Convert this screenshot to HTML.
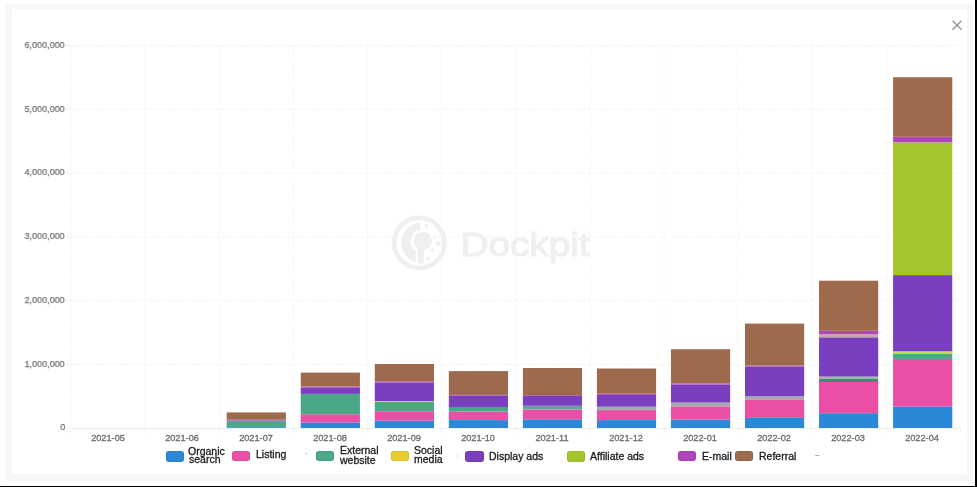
<!DOCTYPE html>
<html><head><meta charset="utf-8">
<style>
html,body{margin:0;padding:0;background:#fff;}
body{width:977px;height:487px;position:relative;overflow:hidden;font-family:"Liberation Sans",sans-serif;}
.yl,.xl,.lt{will-change:transform;}
.frame{position:absolute;left:5px;top:3.5px;width:968px;height:477.5px;background:#f7f7f5;}
.inner{position:absolute;left:12px;top:9px;width:955px;height:465px;background:#fff;}
.blk-r{position:absolute;left:975px;top:0;width:2px;height:487px;background:#000;}
.blk-b{position:absolute;left:0;top:485.5px;width:977px;height:2px;background:#000;}
svg{position:absolute;left:0;top:0;}
.yl{position:absolute;right:912px;font-size:9.6px;color:#6e6e6e;line-height:10px;white-space:nowrap;transform:scaleX(0.94);transform-origin:100% 50%;-webkit-text-stroke:0.25px #6e6e6e;}
.xl{position:absolute;font-size:9.2px;color:#6a6a6a;line-height:10px;white-space:nowrap;width:80px;text-align:center;transform:scaleX(1);-webkit-text-stroke:0.3px #6a6a6a;}
.li{position:absolute;width:18.2px;height:10.8px;border-radius:3px;margin-top:-0.2px;box-shadow:inset 0 0 0 0.6px rgba(0,0,0,0.10);}
.lt{position:absolute;font-size:10.5px;color:#1a1a1a;white-space:nowrap;line-height:10px;-webkit-text-stroke:0.3px #1a1a1a;}
</style></head><body>
<div class="frame"></div>
<div class="inner"></div>
<svg width="977" height="487" viewBox="0 0 977 487">
<circle cx="419.3" cy="242.9" r="25.1" fill="none" stroke="#efefef" stroke-width="4.6"/>
<path d="M 420.5 222.5 L 420.5 230.2 A 11.1 11.1 0 0 0 415.8 250.6 L 415.8 262.5 A 20.5 20.5 0 0 1 420.5 222.5 Z" fill="#efefef"/>
<path d="M 417.6 248.2 A 9 9 0 1 1 424.0 249.8 L 424.0 263.3 A 20.5 20.5 0 0 1 417.6 263.2 Z" fill="#efefef"/>
<rect x="424.70" y="224.10" width="3.2" height="3.2" fill="#efefef"/>
<rect x="436.30" y="241.40" width="4.2" height="4.2" fill="#efefef"/>
<rect x="431.00" y="248.30" width="3.2" height="3.2" fill="#efefef"/>
<rect x="426.60" y="257.20" width="3.2" height="3.2" fill="#efefef"/>
<rect x="433.70" y="236.70" width="2.2" height="2.2" fill="#efefef"/>
<text x="460.5" y="256" font-family="Liberation Sans" font-size="33" textLength="129" lengthAdjust="spacingAndGlyphs" stroke="#efefef" stroke-width="1.0" fill="#efefef">Dockpit</text>
<line x1="71.2" y1="428.30" x2="959.68" y2="428.30" stroke="#ebebeb" stroke-width="1"/>
<line x1="71.2" y1="364.52" x2="959.68" y2="364.52" stroke="#f3f3f3" stroke-width="1" stroke-dasharray="4 2"/>
<line x1="71.2" y1="300.74" x2="959.68" y2="300.74" stroke="#f3f3f3" stroke-width="1" stroke-dasharray="4 2"/>
<line x1="71.2" y1="236.96" x2="959.68" y2="236.96" stroke="#f3f3f3" stroke-width="1" stroke-dasharray="4 2"/>
<line x1="71.2" y1="173.18" x2="959.68" y2="173.18" stroke="#f3f3f3" stroke-width="1" stroke-dasharray="4 2"/>
<line x1="71.2" y1="109.40" x2="959.68" y2="109.40" stroke="#f3f3f3" stroke-width="1" stroke-dasharray="4 2"/>
<line x1="71.2" y1="45.62" x2="959.68" y2="45.62" stroke="#f3f3f3" stroke-width="1" stroke-dasharray="4 2"/>
<line x1="70.80" y1="45.62" x2="70.80" y2="428.30" stroke="#f5f5f5" stroke-width="1" stroke-dasharray="4 2"/>
<line x1="144.95" y1="45.62" x2="144.95" y2="428.30" stroke="#f5f5f5" stroke-width="1" stroke-dasharray="4 2"/>
<line x1="219.10" y1="45.62" x2="219.10" y2="428.30" stroke="#f5f5f5" stroke-width="1" stroke-dasharray="4 2"/>
<line x1="293.25" y1="45.62" x2="293.25" y2="428.30" stroke="#f5f5f5" stroke-width="1" stroke-dasharray="4 2"/>
<line x1="367.40" y1="45.62" x2="367.40" y2="428.30" stroke="#f5f5f5" stroke-width="1" stroke-dasharray="4 2"/>
<line x1="441.55" y1="45.62" x2="441.55" y2="428.30" stroke="#f5f5f5" stroke-width="1" stroke-dasharray="4 2"/>
<line x1="515.70" y1="45.62" x2="515.70" y2="428.30" stroke="#f5f5f5" stroke-width="1" stroke-dasharray="4 2"/>
<line x1="589.85" y1="45.62" x2="589.85" y2="428.30" stroke="#f5f5f5" stroke-width="1" stroke-dasharray="4 2"/>
<line x1="664.00" y1="45.62" x2="664.00" y2="428.30" stroke="#f5f5f5" stroke-width="1" stroke-dasharray="4 2"/>
<line x1="738.15" y1="45.62" x2="738.15" y2="428.30" stroke="#f5f5f5" stroke-width="1" stroke-dasharray="4 2"/>
<line x1="812.30" y1="45.62" x2="812.30" y2="428.30" stroke="#f5f5f5" stroke-width="1" stroke-dasharray="4 2"/>
<line x1="886.45" y1="45.62" x2="886.45" y2="428.30" stroke="#f5f5f5" stroke-width="1" stroke-dasharray="4 2"/>
<line x1="70.80" y1="428.30" x2="70.80" y2="433.30" stroke="#f0f0f0" stroke-width="1"/>
<line x1="144.95" y1="428.30" x2="144.95" y2="433.30" stroke="#f0f0f0" stroke-width="1"/>
<line x1="219.10" y1="428.30" x2="219.10" y2="433.30" stroke="#f0f0f0" stroke-width="1"/>
<line x1="293.25" y1="428.30" x2="293.25" y2="433.30" stroke="#f0f0f0" stroke-width="1"/>
<line x1="367.40" y1="428.30" x2="367.40" y2="433.30" stroke="#f0f0f0" stroke-width="1"/>
<line x1="441.55" y1="428.30" x2="441.55" y2="433.30" stroke="#f0f0f0" stroke-width="1"/>
<line x1="515.70" y1="428.30" x2="515.70" y2="433.30" stroke="#f0f0f0" stroke-width="1"/>
<line x1="589.85" y1="428.30" x2="589.85" y2="433.30" stroke="#f0f0f0" stroke-width="1"/>
<line x1="664.00" y1="428.30" x2="664.00" y2="433.30" stroke="#f0f0f0" stroke-width="1"/>
<line x1="738.15" y1="428.30" x2="738.15" y2="433.30" stroke="#f0f0f0" stroke-width="1"/>
<line x1="812.30" y1="428.30" x2="812.30" y2="433.30" stroke="#f0f0f0" stroke-width="1"/>
<line x1="886.45" y1="428.30" x2="886.45" y2="433.30" stroke="#f0f0f0" stroke-width="1"/>
<line x1="960.60" y1="428.30" x2="960.60" y2="433.30" stroke="#f0f0f0" stroke-width="1"/>
<line x1="66" y1="428.30" x2="71.2" y2="428.30" stroke="#f0f0f0" stroke-width="1"/>
<line x1="66" y1="364.52" x2="71.2" y2="364.52" stroke="#f0f0f0" stroke-width="1"/>
<line x1="66" y1="300.74" x2="71.2" y2="300.74" stroke="#f0f0f0" stroke-width="1"/>
<line x1="66" y1="236.96" x2="71.2" y2="236.96" stroke="#f0f0f0" stroke-width="1"/>
<line x1="66" y1="173.18" x2="71.2" y2="173.18" stroke="#f0f0f0" stroke-width="1"/>
<line x1="66" y1="109.40" x2="71.2" y2="109.40" stroke="#f0f0f0" stroke-width="1"/>
<line x1="66" y1="45.62" x2="71.2" y2="45.62" stroke="#f0f0f0" stroke-width="1"/>
<rect x="226.70" y="427.20" width="59.2" height="0.80" fill="#2b88d8"/>
<rect x="226.70" y="421.20" width="59.2" height="6.00" fill="#4ba886"/>
<rect x="226.70" y="420.60" width="59.2" height="0.60" fill="#7a3fbf"/>
<rect x="226.70" y="419.70" width="59.2" height="0.90" fill="#b046be"/>
<rect x="226.70" y="412.40" width="59.2" height="7.30" fill="#9e6a4d"/>
<rect x="300.74" y="422.40" width="59.2" height="5.60" fill="#2b88d8"/>
<rect x="300.74" y="414.20" width="59.2" height="8.20" fill="#ea4fa5"/>
<rect x="300.74" y="393.90" width="59.2" height="20.30" fill="#4ba886"/>
<rect x="300.74" y="387.70" width="59.2" height="6.20" fill="#7a3fbf"/>
<rect x="300.74" y="386.50" width="59.2" height="1.20" fill="#b046be"/>
<rect x="300.74" y="372.60" width="59.2" height="13.90" fill="#9e6a4d"/>
<rect x="374.78" y="420.70" width="59.2" height="7.30" fill="#2b88d8"/>
<rect x="374.78" y="411.20" width="59.2" height="9.50" fill="#ea4fa5"/>
<rect x="374.78" y="401.50" width="59.2" height="9.70" fill="#4ba886"/>
<rect x="374.78" y="401.00" width="59.2" height="0.50" fill="#e8cb2f"/>
<rect x="374.78" y="382.50" width="59.2" height="18.50" fill="#7a3fbf"/>
<rect x="374.78" y="381.30" width="59.2" height="1.20" fill="#b046be"/>
<rect x="374.78" y="364.00" width="59.2" height="17.30" fill="#9e6a4d"/>
<rect x="448.82" y="420.10" width="59.2" height="7.90" fill="#2b88d8"/>
<rect x="448.82" y="411.60" width="59.2" height="8.50" fill="#ea4fa5"/>
<rect x="448.82" y="407.00" width="59.2" height="4.60" fill="#4ba886"/>
<rect x="448.82" y="395.70" width="59.2" height="11.30" fill="#7a3fbf"/>
<rect x="448.82" y="394.90" width="59.2" height="0.80" fill="#b046be"/>
<rect x="448.82" y="371.10" width="59.2" height="23.80" fill="#9e6a4d"/>
<rect x="522.86" y="419.30" width="59.2" height="8.70" fill="#2b88d8"/>
<rect x="522.86" y="409.60" width="59.2" height="9.70" fill="#ea4fa5"/>
<rect x="522.86" y="405.80" width="59.2" height="3.80" fill="#6e9f98"/>
<rect x="522.86" y="396.00" width="59.2" height="9.80" fill="#7a3fbf"/>
<rect x="522.86" y="395.20" width="59.2" height="0.80" fill="#b046be"/>
<rect x="522.86" y="368.00" width="59.2" height="27.20" fill="#9e6a4d"/>
<rect x="596.90" y="420.10" width="59.2" height="7.90" fill="#2b88d8"/>
<rect x="596.90" y="410.10" width="59.2" height="10.00" fill="#ea4fa5"/>
<rect x="596.90" y="406.70" width="59.2" height="3.40" fill="#a2acae"/>
<rect x="596.90" y="394.90" width="59.2" height="11.80" fill="#7a3fbf"/>
<rect x="596.90" y="393.60" width="59.2" height="1.30" fill="#b046be"/>
<rect x="596.90" y="368.50" width="59.2" height="25.10" fill="#9e6a4d"/>
<rect x="670.94" y="419.60" width="59.2" height="8.40" fill="#2b88d8"/>
<rect x="670.94" y="406.30" width="59.2" height="13.30" fill="#ea4fa5"/>
<rect x="670.94" y="402.60" width="59.2" height="3.70" fill="#a2acae"/>
<rect x="670.94" y="384.60" width="59.2" height="18.00" fill="#7a3fbf"/>
<rect x="670.94" y="383.40" width="59.2" height="1.20" fill="#b046be"/>
<rect x="670.94" y="349.20" width="59.2" height="34.20" fill="#9e6a4d"/>
<rect x="744.98" y="417.90" width="59.2" height="10.10" fill="#2b88d8"/>
<rect x="744.98" y="399.40" width="59.2" height="18.50" fill="#ea4fa5"/>
<rect x="744.98" y="396.20" width="59.2" height="3.20" fill="#a2acae"/>
<rect x="744.98" y="366.60" width="59.2" height="29.60" fill="#7a3fbf"/>
<rect x="744.98" y="365.60" width="59.2" height="1.00" fill="#b046be"/>
<rect x="744.98" y="323.60" width="59.2" height="42.00" fill="#9e6a4d"/>
<rect x="819.02" y="413.20" width="59.2" height="14.80" fill="#2b88d8"/>
<rect x="819.02" y="382.00" width="59.2" height="31.20" fill="#ea4fa5"/>
<rect x="819.02" y="378.40" width="59.2" height="3.60" fill="#3a8f7a"/>
<rect x="819.02" y="376.60" width="59.2" height="1.80" fill="#8cc4a8"/>
<rect x="819.02" y="337.30" width="59.2" height="39.30" fill="#7a3fbf"/>
<rect x="819.02" y="334.20" width="59.2" height="3.10" fill="#c6aaa0"/>
<rect x="819.02" y="330.80" width="59.2" height="3.40" fill="#b046be"/>
<rect x="819.02" y="280.70" width="59.2" height="50.10" fill="#9e6a4d"/>
<rect x="893.06" y="406.50" width="59.2" height="21.50" fill="#2b88d8"/>
<rect x="893.06" y="358.90" width="59.2" height="47.60" fill="#ea4fa5"/>
<rect x="893.06" y="353.90" width="59.2" height="5.00" fill="#4ba886"/>
<rect x="893.06" y="351.30" width="59.2" height="2.60" fill="#c6d35c"/>
<rect x="893.06" y="275.10" width="59.2" height="76.20" fill="#7a3fbf"/>
<rect x="893.06" y="142.30" width="59.2" height="132.80" fill="#a4c52c"/>
<rect x="893.06" y="136.80" width="59.2" height="5.50" fill="#b046be"/>
<rect x="893.06" y="77.20" width="59.2" height="59.60" fill="#9e6a4d"/>
</svg>
<div class="yl" style="top:422.40px">0</div>
<div class="yl" style="top:358.62px">1,000,000</div>
<div class="yl" style="top:294.84px">2,000,000</div>
<div class="yl" style="top:231.06px">3,000,000</div>
<div class="yl" style="top:167.28px">4,000,000</div>
<div class="yl" style="top:103.50px">5,000,000</div>
<div class="yl" style="top:39.72px">6,000,000</div>
<div class="xl" style="left:67.92px;top:433.0px">2021-05</div>
<div class="xl" style="left:141.96px;top:433.0px">2021-06</div>
<div class="xl" style="left:216.00px;top:433.0px">2021-07</div>
<div class="xl" style="left:290.04px;top:433.0px">2021-08</div>
<div class="xl" style="left:364.08px;top:433.0px">2021-09</div>
<div class="xl" style="left:438.12px;top:433.0px">2021-10</div>
<div class="xl" style="left:512.16px;top:433.0px">2021-11</div>
<div class="xl" style="left:586.20px;top:433.0px">2021-12</div>
<div class="xl" style="left:660.24px;top:433.0px">2022-01</div>
<div class="xl" style="left:734.28px;top:433.0px">2022-02</div>
<div class="xl" style="left:808.32px;top:433.0px">2022-03</div>
<div class="xl" style="left:882.36px;top:433.0px">2022-04</div>
<div class="li" style="left:166.1px;top:451.1px;background:#2b88d8"></div>
<div class="lt" style="left:188px;top:445.80px">Organic</div>
<div class="lt" style="left:188.9px;top:454.30px">search</div>
<div class="li" style="left:232.0px;top:450.7px;background:#ea4fa5"></div>
<div class="lt" style="left:256px;top:449.40px">Listing</div>
<div class="li" style="left:316.0px;top:450.7px;background:#4ba886"></div>
<div class="lt" style="left:339.7px;top:444.80px">External</div>
<div class="lt" style="left:339.7px;top:455.40px">website</div>
<div class="li" style="left:391.0px;top:450.7px;background:#e8cb2f"></div>
<div class="lt" style="left:413.9px;top:445.30px">Social</div>
<div class="lt" style="left:413.9px;top:454.30px">media</div>
<div class="li" style="left:465.4px;top:451.1px;background:#7a3fbf"></div>
<div class="lt" style="left:488.5px;top:451.10px">Display ads</div>
<div class="li" style="left:567.2px;top:451.1px;background:#a4c52c"></div>
<div class="lt" style="left:589.7px;top:451.10px">Affiliate ads</div>
<div class="li" style="left:677.9px;top:450.8px;background:#b046be"></div>
<div class="lt" style="left:701.5px;top:450.70px">E-mail</div>
<div class="li" style="left:735.2px;top:450.8px;background:#9e6a4d"></div>
<div class="lt" style="left:758.6px;top:450.70px">Referral</div>
<svg width="977" height="487" viewBox="0 0 977 487" style="pointer-events:none">
<line x1="952.5" y1="20.8" x2="961.5" y2="29.6" stroke="#9c9c9c" stroke-width="1.5"/>
<line x1="961.5" y1="20.8" x2="952.5" y2="29.6" stroke="#9c9c9c" stroke-width="1.5"/>
<line x1="306.8" y1="452.5" x2="306.2" y2="455" stroke="#bbb" stroke-width="0.8"/>
<circle cx="457" cy="456" r="0.7" fill="#ccc"/>
<line x1="815.3" y1="455.5" x2="819.4" y2="455.5" stroke="#aaa" stroke-width="1"/>
</svg>
<div class="blk-r"></div>
<div class="blk-b"></div>
</body></html>
